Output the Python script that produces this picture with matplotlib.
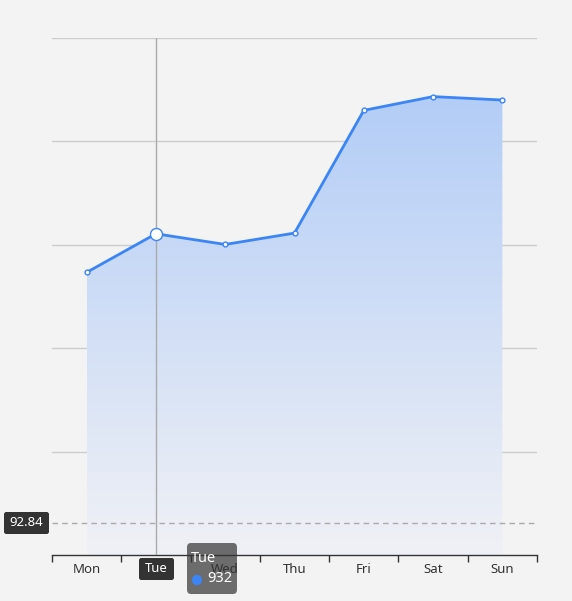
import numpy as np
import matplotlib.pyplot as plt
from matplotlib.patches import Polygon, FancyBboxPatch, Circle

# --- data ---
days = ['Mon', 'Tue', 'Wed', 'Thu', 'Fri', 'Sat', 'Sun']
values = [820, 932, 901, 934, 1290, 1330, 1320]
y_max = 1500
y_step = 300
hover_idx = 1          # axis pointer on Tue
pointer_y = 92.84      # horizontal cross line value

bg = '#f3f3f3'
line_c = '#3b85f7'
W, H = 572, 601
font = ['Noto Sans', 'DejaVu Sans']

fig = plt.figure(figsize=(W / 100, H / 100), dpi=100, facecolor=bg)
ax = fig.add_axes([52 / W, 46 / H, 485 / W, 517 / H])
ax.set_facecolor(bg)

x = np.arange(len(days))
ax.set_xlim(-0.5, len(days) - 0.5)
ax.set_ylim(0, y_max)

# grid lines
for v in np.arange(y_step, y_max + 1, y_step):
    ax.axhline(v, color='#cccccc', lw=1, zorder=1)

# gradient area under line
poly = np.column_stack([np.r_[x[0], x, x[-1]], np.r_[0, values, 0]])
patch = Polygon(poly, closed=True, facecolor='none', edgecolor='none')
ax.add_patch(patch)
top = max(values)
grad = np.linspace(0, 1, 256).reshape(-1, 1)
c_top = np.array([179, 205, 247]) / 255
c_bot = np.array([240, 241, 245]) / 255
img = c_bot + (c_top - c_bot) * grad
img = np.repeat(img[:, None, :], 2, axis=1).reshape(256, 2, 3)
im = ax.imshow(img, extent=[x[0], x[-1], 0, top], origin='lower',
               aspect='auto', zorder=2, interpolation='bilinear')
im.set_clip_path(patch)

# line and markers
ax.plot(x, values, color=line_c, lw=2, zorder=4)
ax.scatter(x, values, s=12, facecolor='white', edgecolor=line_c, lw=1, zorder=5)
ax.scatter([x[hover_idx]], [values[hover_idx]], s=75, facecolor='white',
           edgecolor=line_c, lw=1, zorder=6)

# axis pointer cross lines
ax.axvline(x[hover_idx], color='#aaaaaa', lw=1, zorder=3)
ax.axhline(pointer_y, color='#aaaaaa', lw=1, ls=(0, (4, 3)), zorder=3)

# axes styling
for s in ['top', 'right', 'left']:
    ax.spines[s].set_visible(False)
ax.spines['bottom'].set_color('#333333')
ax.spines['bottom'].set_linewidth(1)
ax.set_yticks([])
ax.set_xticks(np.arange(-0.5, len(days)))
ax.set_xticklabels([])
ax.tick_params(axis='x', length=5, color='#333333', width=1)
for i, d in enumerate(days):
    if i == hover_idx:
        continue
    ax.text(i, -8 / 517 * y_max, d, ha='center', va='top', fontsize=9.5,
            color='#333333', family=font)


def px_box(x0, y0, w, h, color, r=0.004):
    # pixel coords from top-left
    b = FancyBboxPatch((x0 / W, 1 - (y0 + h) / H), w / W, h / H,
                       boxstyle=f'round,pad=0,rounding_size={r}',
                       transform=fig.transFigure, facecolor=color,
                       edgecolor='none', zorder=10)
    fig.add_artist(b)


# axis pointer labels
px_box(139, 558, 35, 22, '#333333')
fig.text(156.5 / W, 1 - 569 / H, days[hover_idx], ha='center', va='center',
         color='white', fontsize=9.5, family=font, zorder=11)
px_box(4, 512, 45, 22, '#333333')
fig.text(26.5 / W, 1 - 523 / H, f'{pointer_y:.2f}', ha='center', va='center',
         color='white', fontsize=9.5, family=font, zorder=11)

# tooltip
px_box(187, 543, 50, 51, (0.2, 0.2, 0.2, 0.7), r=0.007)
fig.text(191 / W, 1 - 558 / H, days[hover_idx], ha='left', va='center',
         color='white', fontsize=10.5, family=font, zorder=11)
dot = Circle((197 / W, 1 - 580 / H), 5 / W, transform=fig.transFigure,
             facecolor=line_c, edgecolor='none', zorder=11)
fig.add_artist(dot)
fig.text(207 / W, 1 - 579 / H, str(values[hover_idx]), ha='left', va='center',
         color='white', fontsize=10.5, family=font, zorder=11)

fig.savefig('out.png', dpi=100, facecolor=bg)
